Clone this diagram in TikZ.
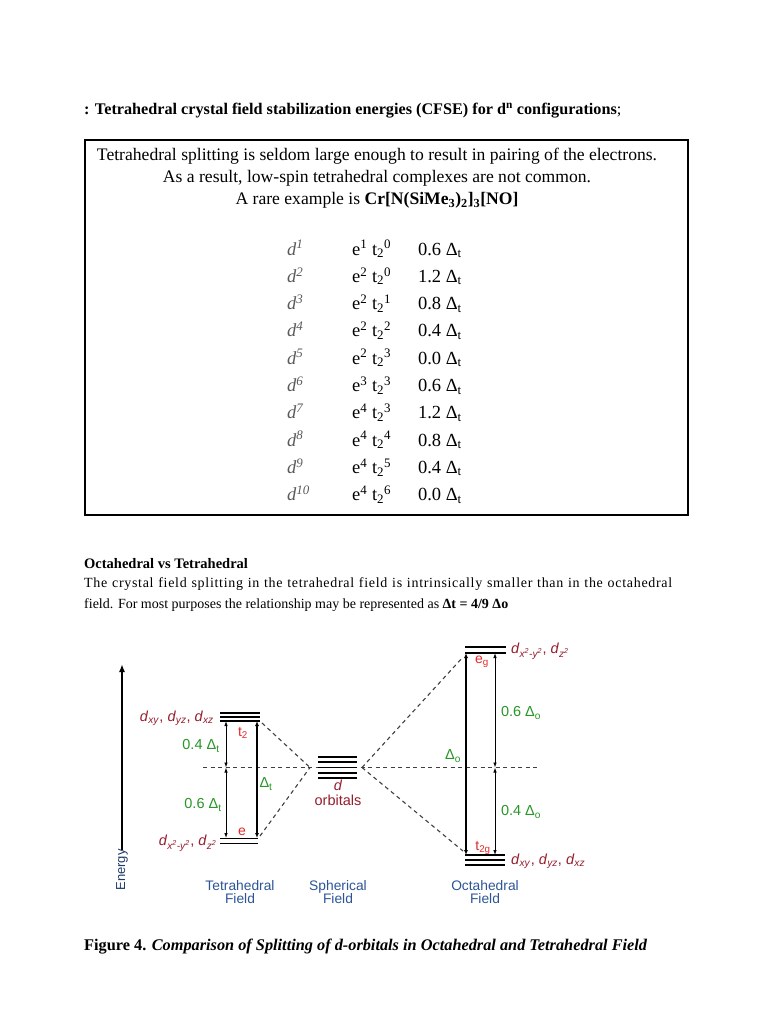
\documentclass[tikz,border=0pt]{standalone}
\usepackage{fontspec}
\setmainfont{Liberation Serif}
\setsansfont{Liberation Sans}
\usetikzlibrary{arrows.meta}
\definecolor{dred}{RGB}{150,30,45}
\definecolor{lred}{RGB}{230,40,40}
\definecolor{dgreen}{RGB}{40,150,40}
\definecolor{fblue}{RGB}{45,85,150}
\definecolor{tgray}{RGB}{90,90,90}
\newcommand{\sz}[1]{\fontsize{#1}{#1}\selectfont}
\newcommand{\dd}[1]{\textit{d}\textsubscript{\textit{#1}}}
\tikzset{
  txt/.style={inner sep=0pt, anchor=base west, font=\sz{15}},
  ctxt/.style={inner sep=0pt, anchor=base, font=\sz{17.6}},
  rowd/.style={inner sep=0pt, anchor=base west, font=\sz{18.5}\itshape, text=tgray},
  rowe/.style={inner sep=0pt, anchor=base west, font=\sz{18.5}},
  rowv/.style={inner sep=0pt, anchor=base east, font=\sz{18.5}},
  level/.style={line width=1.5pt},
  dline/.style={dash pattern=on 4pt off 3.5pt, line width=1.1pt, black!75},
  thinarr/.style={line width=0.8pt, {Latex[length=5pt,width=3.5pt]}-{Latex[length=5pt,width=3.5pt]}},
  thickarr/.style={line width=1.7pt, {Latex[length=5pt,width=4pt]}-{Latex[length=5pt,width=4pt]}},
  orb/.style={inner sep=0pt, font=\sffamily\sz{14.5}, text=dred},
  redlab/.style={inner sep=0pt, font=\sffamily\sz{14}, text=lred},
  grnlab/.style={inner sep=0pt, font=\sffamily\sz{14.5}, text=dgreen},
  fieldlab/.style={inner sep=0pt, font=\sffamily\sz{13.8}, text=fblue, align=center}
}
\begin{document}
\begin{tikzpicture}[x=1pt,y=-1pt]
\useasboundingbox[fill=white] (0,0) rectangle (768,1024);
% title
\node[txt, font=\sz{16.2}] (title) at (84,115) {\textbf{: Tetrahedral crystal field stabilization energies (CFSE) for d\textsuperscript{n} configurations};};
% box
\draw[line width=1.5pt] (85,140) rectangle (688,515);
\node[ctxt] (b1) at (377,161) {Tetrahedral splitting is seldom large enough to result in pairing of the electrons.};
\node[ctxt] (b2) at (377,183) {As a result, low-spin tetrahedral complexes are not common.};
\node[ctxt] (b3) at (377,205) {A rare example is \textbf{Cr[N(SiMe\textsubscript{3})\textsubscript{2}]\textsubscript{3}[NO]}};
% table
\foreach \n/\e/\t/\v [count=\i from 0] in {1/1/0/0.6, 2/2/0/1.2, 3/2/1/0.8, 4/2/2/0.4, 5/2/3/0.0, 6/3/3/0.6, 7/4/3/1.2, 8/4/4/0.8, 9/4/5/0.4, 10/4/6/0.0}{
  \pgfmathsetmacro{\yy}{255+27.3*\i}
  \node[rowd] (d\n) at (287,\yy) {d\textsuperscript{\n}};
  \node[rowe] (e\n) at (352,\yy) {e\textsuperscript{\e} t\textsubscript{2}\textsuperscript{\t}};
  \node[rowv] (v\n) at (462,\yy) {\v\ Δ\textsubscript{t}};
}
% paragraph
\node[txt, font=\sz{14.5}\bfseries] (h) at (84,568) {Octahedral vs Tetrahedral};
\node[txt, font=\sz{14}] (p1) at (84,587) {\addfontfeatures{LetterSpace=5}\makebox[588pt][s]{The crystal field splitting in the tetrahedral field is intrinsically smaller than in the octahedral}};
\node[txt, font=\sz{14}] (p2) at (84,608) {field. For most purposes the relationship may be represented as \textbf{Δt = 4/9 Δo}};
% energy axis
\coordinate (en0) at (122,850);
\coordinate (en1) at (122,664);
\draw[line width=1.6pt, -{Latex[length=8pt,width=6pt]}] (en0) -- (en1);
\node[inner sep=0pt, rotate=90, font=\sffamily\sz{13}, text=fblue!70!black] (energy) at (122,870) {Energy};
% horizontal dashed reference
\coordinate (hl) at (203,767.5);
\coordinate (hr) at (537,767.5);
\draw[dline] (hl) -- (hr);
% tetrahedral levels
\foreach \y in {713,717,721} \draw[level] (220,\y) -- (260,\y);
\foreach \y in {838.5,843.5} \draw[level] (220,\y) -- (258,\y);
\coordinate (t2r) at (262,723);
\coordinate (er) at (260,836);
\coordinate (tA) at (226,721); \coordinate (tM) at (226,767.5); \coordinate (tB) at (226,838);
\coordinate (bA) at (257,721); \coordinate (bB) at (257,838);
\draw[thinarr] (tA) -- (tM);
\draw[thinarr] (tM) -- (tB);
\draw[thickarr] (bA) -- (bB);
% spherical levels
\foreach \y in {757,762,767.5,773,778} \draw[level] (318,\y) -- (357,\y);
\coordinate (sl) at (310,767.5);
\coordinate (sr) at (362,767.5);
\draw[dline] (t2r) -- (sl);
\draw[dline] (er) -- (sl);
% octahedral levels
\foreach \y in {647,653} \draw[level] (465,\y) -- (506,\y);
\foreach \y in {855,860,865} \draw[level] (465,\y) -- (505,\y);
\coordinate (egl) at (463,657);
\coordinate (tgl) at (463,851);
\draw[dline] (sr) -- (egl);
\draw[dline] (sr) -- (tgl);
\coordinate (oA) at (466,653); \coordinate (oB) at (466,855);
\coordinate (sA) at (495,653); \coordinate (sM) at (495,767.5); \coordinate (sB) at (495,855);
\draw[thickarr] (oA) -- (oB);
\draw[thinarr] (sA) -- (sM);
\draw[thinarr] (sM) -- (sB);
% labels tetrahedral
\node[orb, anchor=east] (lt2) at (214,718) {\dd{xy}, \dd{yz}, \dd{xz}};
\node[redlab] (t2) at (243,733) {t\textsubscript{2}};
\node[grnlab] (l04t) at (201,746) {0.4 Δ\textsubscript{t}};
\node[grnlab] (lDt) at (266,784) {Δ\textsubscript{t}};
\node[grnlab] (l06t) at (203,805) {0.6 Δ\textsubscript{t}};
\node[redlab] (le) at (242,832) {e};
\node[orb, anchor=east] (lte) at (217,843) {\dd{x\textsuperscript{2}-y\textsuperscript{2}}, \dd{z\textsuperscript{2}}};
\node[fieldlab] (ft) at (240,892) {Tetrahedral\\Field};
% spherical labels
\node[orb, align=center] (ld) at (338,793) {\textit{d}\\orbitals};
\node[fieldlab] (fs) at (338,892) {Spherical\\Field};
% octahedral labels
\node[redlab] (leg) at (482,662) {e\textsubscript{g}};
\node[orb, anchor=west] (loe) at (511,651) {\dd{x\textsuperscript{2}-y\textsuperscript{2}}, \dd{z\textsuperscript{2}}};
\node[grnlab] (l06o) at (521,713) {0.6 Δ\textsubscript{o}};
\node[grnlab] (lDo) at (453,756) {Δ\textsubscript{o}};
\node[grnlab] (l04o) at (521,812) {0.4 Δ\textsubscript{o}};
\node[redlab] (ltg) at (483,848) {t\textsubscript{2g}};
\node[orb, anchor=west] (lot) at (511,861) {\dd{xy}, \dd{yz}, \dd{xz}};
\node[fieldlab] (fo) at (485,892) {Octahedral\\Field};
% caption
\node[txt, font=\sz{16.3}] (cap) at (84,950) {\textbf{Figure 4.} \textbf{\textit{Comparison of Splitting of d-orbitals in Octahedral and Tetrahedral Field}}};
\end{tikzpicture}
\end{document}
